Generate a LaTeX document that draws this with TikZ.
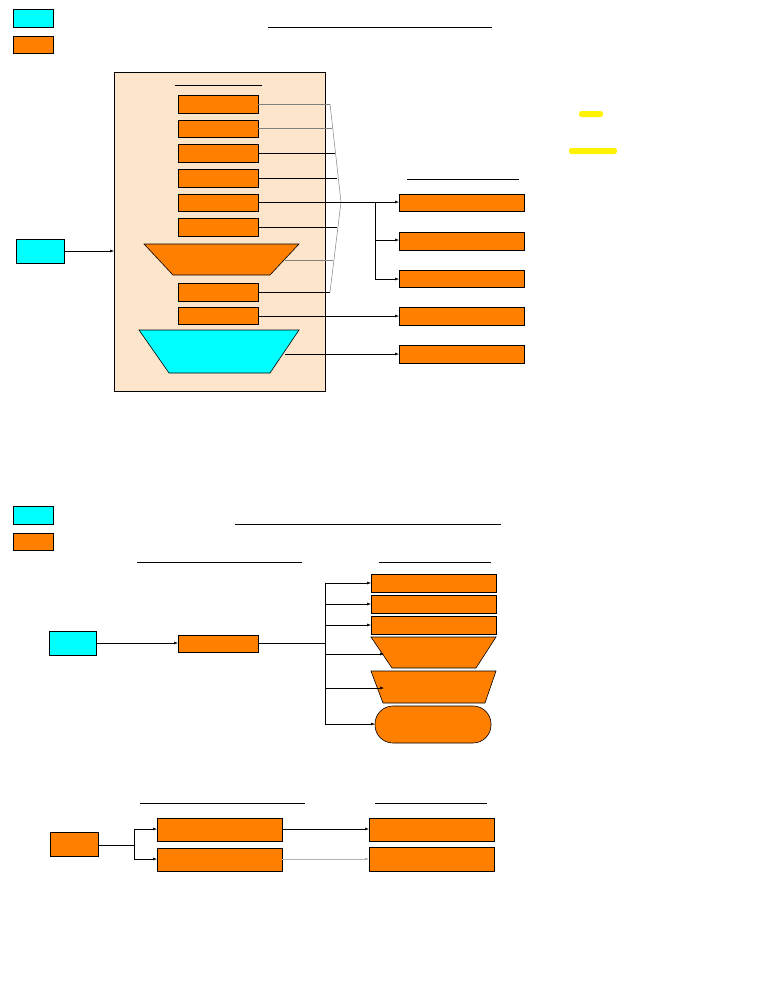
\documentclass[tikz,border=0pt]{standalone}
\usetikzlibrary{arrows.meta}
\definecolor{org}{HTML}{FF8000}
\definecolor{cy}{HTML}{00FFFF}
\definecolor{peach}{HTML}{FDE5CC}
\tikzset{x=1pt,y=-1pt,
 ob/.style={draw=black,fill=org,line width=0.6pt},
 cb/.style={draw=black,fill=cy,line width=0.6pt},
 ar/.style={-{Latex[length=4pt,width=3pt]},line width=0.5pt},
 ln/.style={line width=0.5pt},
 ttl/.style={line width=0.6pt}}
\begin{document}
\begin{tikzpicture}
\useasboundingbox (0,0) rectangle (768,994);
% legend top
\draw[cb] (13,9) rectangle (53,27);
\draw[ob] (13,36) rectangle (53,53);
\draw[ttl] (268,27) -- (492,27);
% big box
\draw[fill=peach,line width=0.6pt] (114,72) rectangle (325,391);
\draw[ttl] (175,85) -- (262,85);
\foreach \n/\a/\b in {a1/95/113,a2/120/137,a3/144/162,a4/169/187,a5/194/211,a6/218/236,a7/283/301,a8/307/324}
  \draw[ob] (178,\a) rectangle (258,\b) coordinate (\n);
\draw[ob] (144,244) -- (299,244) -- (270,275) -- (173,275) -- cycle;
\draw[cb] (139,330) -- (299,330) -- (270,373) -- (169,373) -- cycle;
% brace
\draw[ln,gray] (330,104) -- (341,202) -- (330,292);
\draw[ln,gray] (258,104) -- (330,104);
\draw[ln,gray] (258,128) -- (332,128);
\draw[ln] (258,153) -- (335,153);
\draw[ln] (258,178) -- (337,178);
\draw[ln] (258,202) -- (341,202);
\draw[ln] (258,227) -- (337,227);
\draw[ln,gray] (285,260) -- (333,260);
\draw[ln] (258,292) -- (330,292);
\coordinate (br) at (341,202);
% right boxes
\draw[ttl] (407,179) -- (519,179);
\foreach \n/\a/\b in {r1/194/211,r2/232/250,r3/270/287,r4/307/325,r5/345/363}
  \draw[ob] (399,\a) rectangle (524,\b) coordinate (\n);
\draw[ar] (br) -- (399,202);
\draw[ln] (375,202) -- (375,279);
\draw[ar] (375,240) -- (399,240);
\draw[ar] (375,279) -- (399,279);
\draw[ar] (258,316) -- (399,316);
\draw[ar] (285,354) -- (399,354);
% input
\draw[cb] (16,239) rectangle (64,263);
\draw[ar] (64,251) -- (114,251);
% yellow marks
\fill[yellow,rounded corners=2.5pt] (579,111) rectangle (603,117);
\fill[yellow,rounded corners=2.5pt] (569,148) rectangle (617,154);
% second section
\draw[cb] (13,506) rectangle (53,524);
\draw[ob] (13,533) rectangle (53,550);
\draw[ttl] (235,524) -- (501,524);
\draw[ttl] (137,562) -- (302,562);
\draw[ttl] (379,562) -- (491,562);
\draw[cb] (49,631) rectangle (96,655);
\draw[ob] (178,635) rectangle (258,652);
\draw[ar] (96,643) -- (178,643);
\draw[ln] (258,643) -- (325,643);
\draw[ln] (325,583) -- (325,724);
\draw[ob] (371,574) rectangle (496,592);
\draw[ob] (371,595) rectangle (496,613);
\draw[ob] (371,616) rectangle (496,634);
\draw[ob] (371,637) -- (496,637) -- (476,668) -- (392,668) -- cycle;
\draw[ob] (371,671) -- (496,671) -- (485,703) -- (383,703) -- cycle;
\draw[ob,rounded corners=18pt] (375,706) rectangle (491,743);
\draw[ar] (325,583) -- (371,583);
\draw[ar] (325,604) -- (371,604);
\draw[ar] (325,625) -- (371,625);
\draw[ar] (325,654) -- (384,654);
\draw[ar] (325,688) -- (384,688);
\draw[ar] (325,724) -- (375,724);
% third section
\draw[ttl] (140,803) -- (305,803);
\draw[ttl] (375,803) -- (487,803);
\draw[ob] (50,832) rectangle (98,856);
\draw[ln] (98,845) -- (134,845);
\draw[ln] (134,829) -- (134,859);
\draw[ar] (134,829) -- (157,829);
\draw[ar] (134,859) -- (157,859);
\draw[ob] (157,818) rectangle (282,841);
\draw[ob] (157,848) rectangle (282,871);
\draw[ob] (369,818) rectangle (494,841);
\draw[ob] (369,847) rectangle (494,871);
\draw[ar] (282,829) -- (369,829);
\draw[ar,gray!60] (282,859) -- (369,859);
\end{tikzpicture}
\end{document}
